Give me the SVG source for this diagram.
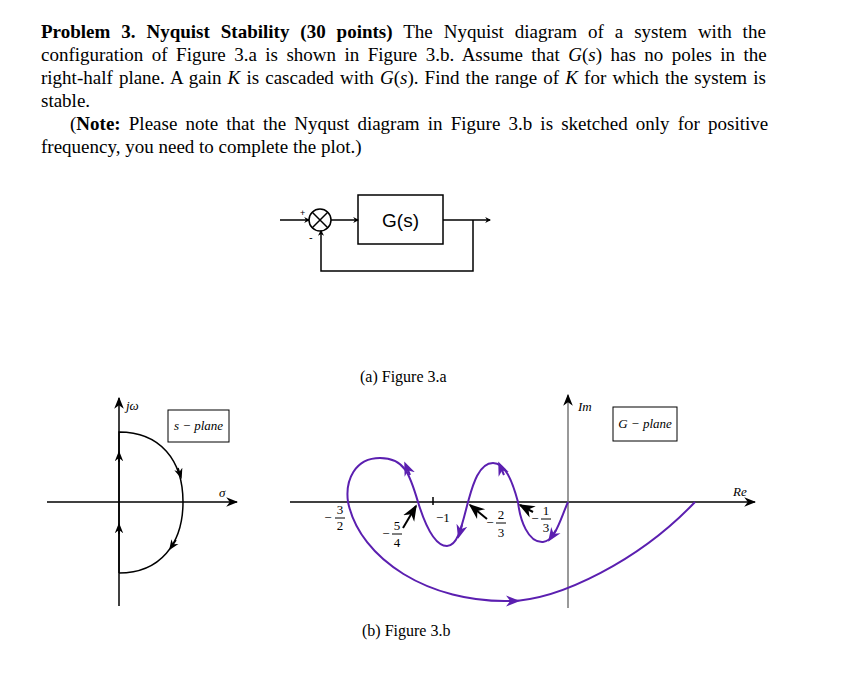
<svg xmlns="http://www.w3.org/2000/svg" width="850" height="686" viewBox="0 0 850 686">
<style>
.t{font-family:"Liberation Serif",serif;font-size:19px;fill:#000}
.b{font-weight:bold}
.i{font-style:italic}
.m{font-family:"Liberation Serif",serif;font-size:13px;fill:#000}
.ln{stroke:#000;stroke-width:1.5;fill:none}
.pu{stroke:#5b1fb0;stroke-width:2;fill:none}
</style>
<defs>
<marker id="ah" viewBox="0 0 10 10" refX="9" refY="5" markerWidth="8" markerHeight="8" orient="auto"><path d="M0,1 L10,5 L0,9 L3,5z" fill="#000"/></marker>
<marker id="ap" viewBox="0 0 10 10" refX="5" refY="5" markerWidth="7" markerHeight="7" orient="auto"><path d="M0,1 L10,5 L0,9 L3,5z" fill="#5b1fb0"/></marker>
<marker id="ak" viewBox="0 0 10 10" refX="5" refY="5" markerWidth="7" markerHeight="7" orient="auto"><path d="M0,1 L10,5 L0,9 L3,5z" fill="#000"/></marker>
<marker id="ab" viewBox="0 0 10 10" refX="8" refY="5" markerWidth="4" markerHeight="4" orient="auto"><path d="M0,0 L10,5 L0,10 L3,5z" fill="#000"/></marker>
</defs>
<rect width="850" height="686" fill="#fff"/>
<g id="text">
<text class="t" x="41" y="38" style="word-spacing:6.2px"><tspan class="b">Problem 3.  Nyquist Stability (30 points)</tspan> The Nyquist diagram of a system with the</text>
<text class="t" x="41" y="61" style="word-spacing:3.7px">configuration of Figure 3.a is shown in Figure 3.b.  Assume that <tspan class="i">G</tspan>(<tspan class="i">s</tspan>) has no poles in the</text>
<text class="t" x="41" y="84" style="word-spacing:1.4px">right-half plane. A gain <tspan class="i">K</tspan> is cascaded with <tspan class="i">G</tspan>(<tspan class="i">s</tspan>). Find the range of <tspan class="i">K</tspan> for which the system is</text>
<text class="t" x="41" y="107">stable.</text>
<text class="t" x="70" y="130" style="word-spacing:3.4px">(<tspan class="b">Note:</tspan> Please note that the Nyqust diagram in Figure 3.b is sketched only for positive</text>
<text class="t" x="41" y="153">frequency, you need to complete the plot.)</text>
<text class="t" x="360" y="382" style="font-size:16px">(a) Figure 3.a</text>
<text class="t" x="362" y="636" style="font-size:16px">(b) Figure 3.b</text>
</g>
<g id="sum">
<circle cx="320" cy="220" r="11" class="ln"/>
<path d="M312,212 L328,228 M328,212 L312,228" class="ln"/>
<text x="300" y="216" style="font-family:'Liberation Sans',sans-serif;font-size:9px">+</text>
<text x="309" y="241" style="font-family:'Liberation Sans',sans-serif;font-size:11px">-</text>
</g>
<g id="G">
<rect x="358" y="195" width="85" height="49" fill="#fff" stroke="#000" stroke-width="1.5"/>
<text x="400.5" y="227" text-anchor="middle" style="font-family:'Liberation Sans',sans-serif;font-size:19px">G(s)</text>
</g>
<g id="block-connectors" stroke="#000" stroke-width="1.5" fill="none">
<path d="M280,220 H309" marker-end="url(#ab)"/>
<path d="M331,220 H358" marker-end="url(#ab)"/>
<path d="M443,220 H490" marker-end="url(#ab)"/>
<path d="M473,220 V271 H321 V231" marker-end="url(#ab)"/>
</g>
<g id="splane">
<path d="M119,606 V398" class="ln" stroke-width="1.2" marker-end="url(#ah)"/>
<path d="M47,502 H237" class="ln" stroke-width="1.2" marker-end="url(#ah)"/>
<text x="126" y="410" class="m i">jω</text>
<text x="219" y="497" class="m i">σ</text>
<rect x="168" y="410" width="61" height="32" fill="none" stroke="#000"/>
<text x="198.5" y="430" class="m i" text-anchor="middle">s − plane</text>
<path d="M119,573 V432 C160,432 183,460 183,502 C183,544 160,573 119,573" class="ln" stroke-width="2"/>
<path d="M119,462 V456" class="ln" marker-end="url(#ak)"/>
<path d="M119,534 V528" class="ln" marker-end="url(#ak)"/>
<path d="M178,468 L180,474" class="ln" marker-end="url(#ak)"/>
<path d="M176,540 L172,546" class="ln" marker-end="url(#ak)"/>
</g>
<g id="gplane">
<path d="M290,502 H755" class="ln" stroke-width="1.2" marker-end="url(#ah)"/>
<path d="M568,608 V395" stroke="#777" stroke-width="1.5" fill="none" marker-end="url(#ah)"/>
<path d="M433,497 V505" class="ln"/>
<text x="578" y="411" class="m i">Im</text>
<text x="733" y="496" class="m i">Re</text>
<rect x="613" y="407" width="64" height="34" fill="none" stroke="#000"/>
<text x="645" y="428" class="m i" text-anchor="middle">G − plane</text>
<path class="pu" d="M568,502 C560,520 555,541 543,542 C528,543 520,520 518,502 C512,480 505,463 493,463 C478,463 472,488 468,502 C462,525 458,546 447,546 C432,546 422,515 418,502 C410,475 405,458 380,458 C355,458 345,480 348,502 C360,560 430,603 510,601 C560,600 640,560 695,502"/>
<path d="M410,475 L407,468" class="pu" marker-end="url(#ap)"/>
<path d="M462,525 L460,532" class="pu" marker-end="url(#ap)"/>
<path d="M504,475 L501,468" class="pu" marker-end="url(#ap)"/>
<path d="M556,530 L552,536" class="pu" marker-end="url(#ap)"/>
<path d="M505,601 L513,601" class="pu" marker-end="url(#ap)"/>
<g stroke="#000" stroke-width="2" fill="none">
<path d="M403,528 L416,506" marker-end="url(#ah)"/>
<path d="M487,519 L470,505" marker-end="url(#ah)"/>
<path d="M533,512 L520,505" marker-end="url(#ah)"/>
</g>
<g class="m">
<text x="328" y="522" text-anchor="middle">−</text>
<text x="340" y="514" text-anchor="middle">3</text><path d="M335,518 H345" stroke="#000"/><text x="340" y="530" text-anchor="middle">2</text>
<text x="386" y="538" text-anchor="middle">−</text>
<text x="397" y="530" text-anchor="middle">5</text><path d="M392,534 H402" stroke="#000"/><text x="397" y="547" text-anchor="middle">4</text>
<text x="436" y="522">−1</text>
<text x="490" y="527" text-anchor="middle">−</text>
<text x="501" y="519" text-anchor="middle">2</text><path d="M496,523 H506" stroke="#000"/><text x="501" y="537" text-anchor="middle">3</text>
<text x="535" y="523" text-anchor="middle">−</text>
<text x="546" y="515" text-anchor="middle">1</text><path d="M541,519 H551" stroke="#000"/><text x="546" y="532" text-anchor="middle">3</text>
</g>
</g>
</svg>
